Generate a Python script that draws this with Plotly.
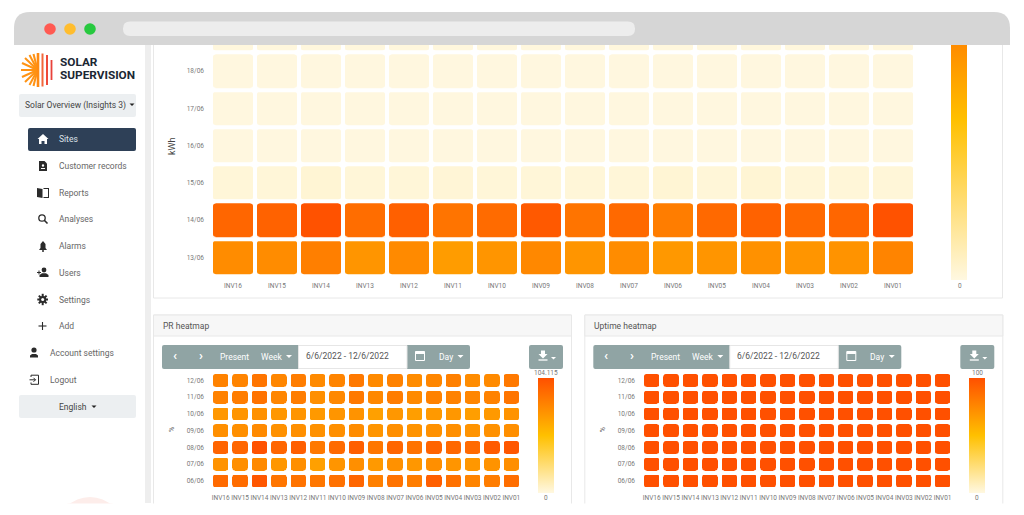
import plotly.graph_objects as go

W, H = 1024, 515
inverters = [f"INV{i:02d}" for i in range(16, 0, -1)]
dates_top = ["13/06", "14/06", "15/06", "16/06", "17/06", "18/06", "19/06"]
dates_low = ["06/06", "07/06", "08/06", "09/06", "10/06", "11/06", "12/06"]

kwh_13 = [73, 73, 79, 69, 74, 66, 69, 75, 69, 73, 68, 69, 71, 69, 70, 77]
kwh_14 = [90, 92, 99, 87, 93, 84, 88, 96, 84, 89, 80, 89, 92, 89, 90, 99]
kwh_15 = [2, 2, 3, 2, 2, 2.5, 2, 2, 2, 2, 3, 2, 3, 2, 2, 2]
kwh_16 = [0.5] * 16
kwh_17 = [0.5] * 16
kwh_18 = [0.5] * 16
kwh_19 = [1] * 16

pr_06 = [92, 91, 101, 87, 88, 86, 89, 94, 82, 88, 83, 97, 89, 80, 83, 90]
pr_07 = [73, 75, 77, 71, 75, 67, 72, 75, 70, 74, 71, 75, 72, 71, 73, 75]
pr_08 = [95, 94, 103, 94, 97, 85, 92, 97, 86, 94, 88, 95, 93, 92, 99, 101]
pr_09 = [75, 75, 77, 74, 75, 74, 75, 76, 72, 75, 73, 74, 75, 73, 74, 75]
pr_10 = [71, 72, 74, 71, 72, 70, 72, 73, 67, 71, 68, 70, 71, 68, 70, 73]
pr_11 = [81, 83, 88, 79, 83, 75, 78, 85, 78, 83, 77, 81, 81, 79, 81, 87]
pr_12 = [81, 80, 87, 79, 83, 77, 80, 85, 77, 81, 76, 79, 82, 76, 77, 85]

uptime_row = [100] * 16
PR_MAX = 104.115
UP_MAX = 100
KWH_MAX = 100
KWH_VISIBLE = 73.4   # part of the kWh legend that is not hidden by the browser bar

scale = [[0, "#FFF8E1"], [0.5, "#FFC000"], [1, "#FF5000"]]
scale_visible = [[0, "#FFF8E1"], [0.681, "#FFC000"], [1, "#FF8C00"]]

FONT = "Roboto, sans-serif"
def fx(x): return x / W
def fy(y): return 1 - y / H

shapes, notes = [], []

def rect(x0, y0, x1, y1, fill, line=None, layer="below", r=0):
    if r:
        p = (f"M{fx(x0+r)},{fy(y0)} L{fx(x1-r)},{fy(y0)} Q{fx(x1)},{fy(y0)} {fx(x1)},{fy(y0+r)} "
             f"L{fx(x1)},{fy(y1-r)} Q{fx(x1)},{fy(y1)} {fx(x1-r)},{fy(y1)} L{fx(x0+r)},{fy(y1)} "
             f"Q{fx(x0)},{fy(y1)} {fx(x0)},{fy(y1-r)} L{fx(x0)},{fy(y0+r)} Q{fx(x0)},{fy(y0)} {fx(x0+r)},{fy(y0)} Z")
        shapes.append(dict(type="path", xref="paper", yref="paper", path=p, fillcolor=fill,
                           line=dict(color=line or fill, width=1 if line else 0), layer=layer))
    else:
        shapes.append(dict(type="rect", xref="paper", yref="paper", x0=fx(x0), x1=fx(x1), y0=fy(y0), y1=fy(y1),
                           fillcolor=fill, line=dict(color=line or fill, width=1 if line else 0), layer=layer))

def circle(cx, cy, r, fill, layer="above", line=None, lw=0):
    shapes.append(dict(type="circle", xref="paper", yref="paper", x0=fx(cx-r), x1=fx(cx+r), y0=fy(cy-r), y1=fy(cy+r),
                       fillcolor=fill, line=dict(color=line or fill, width=lw), layer=layer))

def seg(x0, y0, x1, y1, color, w=1.5, layer="above"):
    shapes.append(dict(type="line", xref="paper", yref="paper", x0=fx(x0), x1=fx(x1), y0=fy(y0), y1=fy(y1),
                       line=dict(color=color, width=w), layer=layer))

def poly(points, fill, layer="above"):
    p = "M" + " L".join(f"{fx(a)},{fy(b)}" for a, b in points) + " Z"
    shapes.append(dict(type="path", xref="paper", yref="paper", path=p, fillcolor=fill, line=dict(width=0), layer=layer))

def text(x, y, s, size=9, color="#555", anchor="left", angle=0, bold=False):
    if anchor == "left":
        x -= 1.5
    notes.append(dict(xref="paper", yref="paper", x=fx(x), y=fy(y), text=f"<b>{s}</b>" if bold else s,
                      showarrow=False, xanchor=anchor, yanchor="middle", textangle=angle,
                      font=dict(family=FONT, size=size, color=color)))

def corner_mask(left, right, top, bottom, ncols, nrows, gap, r):
    """white rounded-corner masks for a heatmap's cells (one path, decoration only)"""
    px, py = (right - left) / ncols, (bottom - top) / nrows
    parts = []
    for i in range(ncols):
        for j in range(nrows):
            x0, x1 = left + i * px + gap / 2, left + (i + 1) * px - gap / 2
            y0, y1 = top + j * py + gap / 2, top + (j + 1) * py - gap / 2
            for cx, sx in ((x0, 1), (x1, -1)):
                for cy, sy in ((y0, 1), (y1, -1)):
                    parts.append(f"M{fx(cx-sx)},{fy(cy-sy)} L{fx(cx+sx*r)},{fy(cy-sy)} L{fx(cx+sx*r)},{fy(cy)} "
                                 f"Q{fx(cx)},{fy(cy)} {fx(cx)},{fy(cy+sy*r)} L{fx(cx-sx)},{fy(cy+sy*r)} Z")
    shapes.append(dict(type="path", xref="paper", yref="paper", path=" ".join(parts), fillcolor="#FFFFFF",
                       line=dict(width=0), layer="above"))

# ---- page frame
rect(150, 45, 1010, 503, "#FFFFFF")
rect(145, 45, 151, 503, "#EEEEEE")
circle(90, 530, 35, "#FDEDEA", layer="below")

# ---- cards
rect(153.5, 30, 1002.5, 298, "#FFFFFF", line="#E8E8E8")
for off, title, right in ((0, "PR heatmap", 571.5), (431.3, "Uptime heatmap", 1002.8)):
    rect(153.5 + off, 315, right, 520, "#FFFFFF", line="#E8E8E8")
    rect(153.5 + off, 315, right, 336, "#F7F7F7", line="#E8E8E8")
    text(162 + off, 325.5, title, size=8.5, color="#555")
    rect(162 + off, 345, 470 + off, 369, "#90A4A4", r=2)
    rect(298.5 + off, 345.5, 407 + off, 368.5, "#FFFFFF", line="#E6E6E6")
    rect(529 + off, 345, 563 + off, 369, "#90A4A4", r=2)
    text(175 + off, 355, "‹", size=13, color="#fff", anchor="center", bold=True)
    text(200.5 + off, 355, "›", size=13, color="#fff", anchor="center", bold=True)
    text(234.5 + off, 356.5, "Present", size=8.5, color="#fff", anchor="center")
    text(271 + off, 356.5, "Week", size=8.5, color="#fff", anchor="center")
    poly([(286 + off, 355), (292 + off, 355), (289 + off, 358)], "#fff")
    text(305 + off, 356, "6/6/2022 - 12/6/2022", size=8.5, color="#555")
    rect(415.5 + off, 351.5, 424.5 + off, 360.5, "#90A4A4", line="#FFFFFF", layer="above")
    rect(415.5 + off, 351.5, 424.5 + off, 354, "#FFFFFF", layer="above")
    text(446 + off, 356.5, "Day", size=8.5, color="#fff", anchor="center")
    poly([(457.5 + off, 355), (463.5 + off, 355), (460.5 + off, 358)], "#fff")
    # download icon
    poly([(541 + off, 350.5), (545 + off, 350.5), (545 + off, 354), (547.5 + off, 354),
          (543 + off, 358.5), (538.5 + off, 354), (541 + off, 354)], "#fff")
    seg(538.5 + off, 360, 547.5 + off, 360, "#fff", 1.3)
    poly([(551 + off, 357), (556 + off, 357), (553.5 + off, 359.5)], "#fff")
    text(172 + off, 430, "%", size=7, color="#555", anchor="center", angle=-90)

text(172, 146, "kWh", size=9, color="#444", anchor="center", angle=-90)
text(959.5, 285.5, "0", size=6.5, color="#777", anchor="center")
text(546, 373, "104.115", size=6.5, color="#777", anchor="center")
text(546, 497.5, "0", size=6.5, color="#777", anchor="center")
text(977, 373, "100", size=6.5, color="#777", anchor="center")
text(977, 497.5, "0", size=6.5, color="#777", anchor="center")

# ---- rounded cell corners (below browser bar in the shape order)
corner_mask(211, 915, 15.25, 276, 16, 7, 4, 2.5)
corner_mask(211, 521, 372, 489.3, 16, 7, 4, 2.5)
corner_mask(642, 952.3, 372, 489.3, 16, 7, 4, 2.5)

# white band under the page
rect(0, 503.5, 1024, 515, "#FFFFFF", layer="above")

# ---- browser bar
rect(0, 0, 1024, 12, "#FFFFFF", layer="above")
poly([(14, 12), (34, 12), (14, 32)], "#FFFFFF")
poly([(1010, 12), (990, 12), (1010, 32)], "#FFFFFF")
rect(14, 12, 1010, 45, "#D6D6D6", layer="above", r=16)
rect(14, 30, 1010, 45, "#D6D6D6", layer="above")
circle(50, 29, 5.8, "#FF5A52")
circle(70, 29, 5.8, "#FFBD2E")
circle(90, 29, 5.8, "#27C93F")
rect(123, 21.5, 635, 36, "#EDEDED", layer="above", r=7)

# ---- sidebar
rect(14, 45, 145, 503, "#FFFFFF", layer="above")
circle(90, 530, 33, "#FDEDEA", layer="above")
rect(14, 503.5, 145, 515, "#FFFFFF", layer="above")
# logo
for a, b in ((21, 70), (22, 63), (22, 77), (25, 58), (25, 82), (29.5, 55), (29.5, 85), (33.5, 54), (33.5, 86)):
    seg(a, b, 37.5, 70, "#FF9314", 2, layer="above")
seg(38, 53, 38, 87, "#FF8A12", 2.6)
seg(42.5, 53.5, 42.5, 86.5, "#F2673A", 2)
seg(47, 55, 47, 85, "#EE4A3A", 2)
seg(51.5, 60, 51.5, 80, "#E8423A", 1.8)
text(59, 62, "SOLAR", size=11.8, color="#1B2733", bold=True)
text(59, 75, "SUPERVISION", size=11.8, color="#1B2733", bold=True)
# selects
rect(19, 94, 136, 117, "#ECEFF1", layer="above", r=2)
text(24, 105, "Solar Overview (Insights 3)", size=8.5, color="#444")
poly([(129.5, 103.5), (134.5, 103.5), (132, 106)], "#222")
rect(19, 395, 136, 418, "#ECEFF1", layer="above", r=2)
text(73, 407, "English", size=8.5, color="#444", anchor="center")
poly([(91.5, 405.5), (96.5, 405.5), (94, 408)], "#222")
rect(28, 128, 136, 151, "#2E4057", layer="above", r=2)
menu = [("Sites", 58, 139, "#DDE3EA"), ("Customer records", 58, 166, "#666"), ("Reports", 58, 192.7, "#666"),
        ("Analyses", 58, 219.4, "#666"), ("Alarms", 58, 246, "#666"), ("Users", 58, 272.8, "#666"),
        ("Settings", 58, 299.5, "#666"), ("Add", 58, 326, "#666"), ("Account settings", 49.5, 353, "#666"),
        ("Logout", 49.5, 379.6, "#666")]
for label, x, y, col in menu:
    text(x, y, label, size=8.5, color=col)
# icons
ink = "#2B2B2B"
poly([(43, 134), (48.5, 139), (47, 139), (47, 144), (44.5, 144), (44.5, 141), (41.5, 141), (41.5, 144), (39, 144), (39, 139), (37.5, 139)], "#FFFFFF")
poly([(39, 161), (44.5, 161), (47, 163.5), (47, 171), (39, 171)], ink)
circle(43, 165.5, 1.2, "#fff"); seg(41, 168.5, 45, 168.5, "#fff", 1)
poly([(37, 188), (42.5, 189), (42.5, 198), (37, 197)], ink)
seg(43.5, 188.5, 49, 188.5, ink, 1); seg(48.5, 188.5, 48.5, 197.5, ink, 1); seg(43.5, 197.5, 49, 197.5, ink, 1)
circle(42, 218, 3.2, "#fff", line=ink, lw=1.3); seg(44.5, 220.5, 47.5, 223.5, ink, 1.6)
poly([(43, 241), (45.5, 244), (45.5, 248), (47, 250), (39, 250), (40.5, 248), (40.5, 244)], ink); circle(43, 251, 1, ink)
circle(44, 270, 2.4, ink); poly([(39.5, 277), (39.5, 275), (42, 273.3), (46, 273.3), (48.5, 275), (48.5, 277)], ink)
seg(37, 272.5, 41, 272.5, ink, 1); seg(39, 270.5, 39, 274.5, ink, 1)
seg(42.7, 293.8, 42.7, 305.2, ink, 2); seg(37.3, 299.5, 48, 299.5, ink, 2)
seg(38.8, 295.6, 46.6, 303.4, ink, 2); seg(38.8, 303.4, 46.6, 295.6, ink, 2)
circle(42.7, 299.5, 3.6, ink)
circle(42.7, 299.5, 1.5, "#fff")
seg(38.5, 326, 46.5, 326, ink, 1.1); seg(42.5, 322, 42.5, 330, ink, 1.1)
circle(34, 350, 2.6, ink); poly([(30, 357.5), (30, 355.5), (32, 354), (36, 354), (38, 355.5), (38, 357.5)], ink)
seg(31, 377, 31, 375.2, ink, 1); seg(31, 375.2, 38.5, 375.2, ink, 1); seg(38.5, 375.2, 38.5, 384.3, ink, 1)
seg(38.5, 384.3, 31, 384.3, ink, 1); seg(31, 384.3, 31, 382.5, ink, 1)
seg(29.5, 379.8, 35.5, 379.8, ink, 1); seg(33.5, 377.8, 35.5, 379.8, ink, 1); seg(33.5, 381.8, 35.5, 379.8, ink, 1)


def hm(z, y, xa, ya, gapy, zmax, cbx=None):
    cb = None
    if cbx is not None:
        cb = dict(x=fx(cbx), xanchor="left", xpad=0, y=fy(492.7), yanchor="bottom", ypad=0,
                  thickness=15.7, thicknessmode="pixels", len=114.7, lenmode="pixels",
                  outlinewidth=0, tickvals=[], showticklabels=False)
    return go.Heatmap(z=z, x=inverters, y=y, xaxis=xa, yaxis=ya, xgap=4, ygap=gapy, zmin=0, zmax=zmax,
                      colorscale=scale, showscale=cb is not None, colorbar=cb, hoverongaps=False)

fig = go.Figure()
fig.add_trace(hm([kwh_13, kwh_14, kwh_15, kwh_16, kwh_17, kwh_18, kwh_19], dates_top, "x", "y", 4, KWH_MAX))
fig.add_trace(go.Heatmap(z=[[0, KWH_VISIBLE], [0, KWH_VISIBLE]], x=inverters[:2], y=dates_top[:2], xaxis="x", yaxis="y",
                         zmin=0, zmax=KWH_VISIBLE, opacity=0, colorscale=scale_visible, hoverinfo="skip", showscale=True,
                         colorbar=dict(x=fx(951), xanchor="left", xpad=0, y=fy(280), yanchor="bottom", ypad=0,
                                       thickness=16, thicknessmode="pixels", len=235, lenmode="pixels",
                                       outlinewidth=0, tickvals=[], showticklabels=False)))
fig.add_trace(hm([pr_06, pr_07, pr_08, pr_09, pr_10, pr_11, pr_12], dates_low, "x2", "y2", 4, PR_MAX, cbx=538.3))
fig.add_trace(hm([uptime_row] * 7, dates_low, "x3", "y3", 4, UP_MAX, cbx=969.3))

def xax(a, b, size, standoff):
    return dict(domain=[fx(a), fx(b)], type="category", categoryorder="array", categoryarray=inverters,
                showgrid=False, zeroline=False, showline=False, ticks="", tickangle=0, dtick=1,
                ticklabeloverflow="allow", ticklabelstandoff=standoff,
                tickfont=dict(family=FONT, size=size, color="#777"))
def yax(top, bot, cats, size):
    return dict(domain=[fy(bot), fy(top)], type="category", categoryorder="array", categoryarray=cats,
                showgrid=False, zeroline=False, showline=False, ticks="", ticklabelstandoff=6,
                tickfont=dict(family=FONT, size=size, color="#777"))

fig.update_layout(
    width=W, height=H, margin=dict(l=0, r=0, t=0, b=0, autoexpand=False),
    paper_bgcolor="#FFFFFF", plot_bgcolor="rgba(0,0,0,0)", showlegend=False,
    font=dict(family=FONT),
    xaxis=dict(xax(211, 915, 6.5, 4), anchor="y"), yaxis=dict(yax(15.25, 276, dates_top, 6.5), anchor="x"),
    xaxis2=dict(xax(211, 521, 6.5, 3), anchor="y2"), yaxis2=dict(yax(372, 489.3, dates_low, 6.5), anchor="x2"),
    xaxis3=dict(xax(642, 952.3, 6.5, 3), anchor="y3"), yaxis3=dict(yax(372, 489.3, dates_low, 6.5), anchor="x3"),
    shapes=shapes, annotations=notes,
)
fig.write_html("out.html", post_script="document.body.style.margin='0';document.body.style.overflow='hidden';",
               config=dict(displayModeBar=False))
